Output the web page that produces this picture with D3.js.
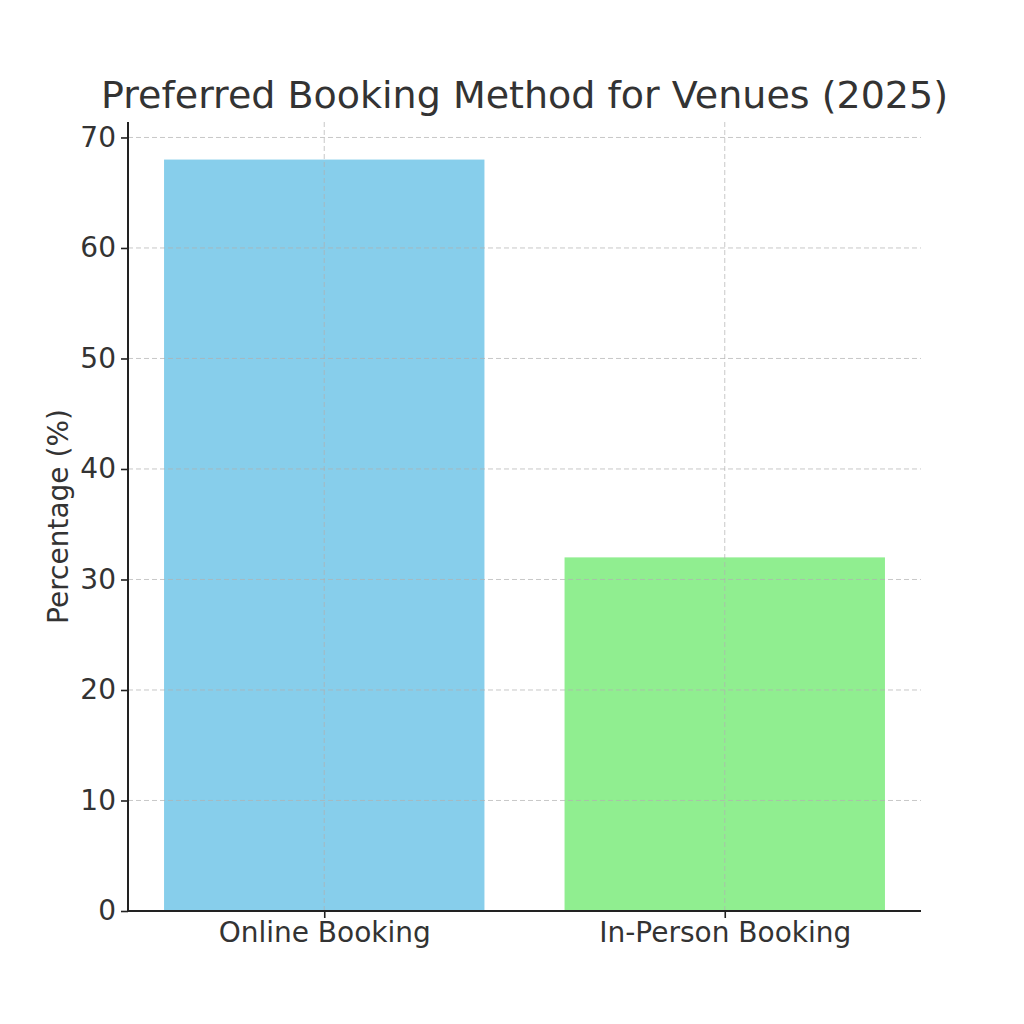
<!DOCTYPE html>
<meta charset="utf-8">
<head>
<script src="https://cdn.jsdelivr.net/npm/d3@7"></script>
<style>
  body { margin: 0; background: #fff; }
  text { font-family: "DejaVu Sans", sans-serif; fill: #333; }
</style>
</head>
<body>
<div id="chart"></div>
<script>
// chart data
var categories = ["Online Booking", "In-Person Booking"];
var percentages = [68, 32];
var barColors = ["#87CEEB", "#90EE90"];
var yTicks = [0, 10, 20, 30, 40, 50, 60, 70];

var width = 1024, height = 1024;
var margin = {top: 122, right: 103, bottom: 113, left: 128};
var plotW = width - margin.left - margin.right,
    plotH = height - margin.top - margin.bottom;

var svg = d3.select("#chart").append("svg")
    .attr("width", width)
    .attr("height", height);

var g = svg.append("g")
    .attr("transform", "translate(" + margin.left + "," + margin.top + ")");

// matplotlib-like limits: bars 0.8 wide, 5% margins
var x = d3.scaleLinear().domain([-0.49, 1.49]).range([0, plotW]);
var y = d3.scaleLinear().domain([0, d3.max(percentages) * 1.05]).range([plotH, 0]);

// bars
g.selectAll("rect.bar")
  .data(percentages)
  .enter().append("rect")
    .attr("class", "bar")
    .attr("x", function(d, i) { return x(i - 0.4); })
    .attr("width", x(0.8) - x(0))
    .attr("y", function(d) { return y(d); })
    .attr("height", function(d) { return plotH - y(d); })
    .attr("fill", function(d, i) { return barColors[i]; });

// grid on top of bars
var grid = g.append("g").attr("class", "grid");
grid.selectAll("line.h")
  .data(yTicks)
  .enter().append("line")
    .attr("x1", 0).attr("x2", plotW)
    .attr("y1", function(d) { return y(d); })
    .attr("y2", function(d) { return y(d); });
grid.selectAll("line.v")
  .data(categories)
  .enter().append("line")
    .attr("x1", function(d, i) { return x(i); })
    .attr("x2", function(d, i) { return x(i); })
    .attr("y1", 0).attr("y2", plotH);
grid.selectAll("line")
    .attr("stroke", "#b0b0b0")
    .attr("stroke-opacity", 0.7)
    .attr("stroke-width", 1)
    .attr("stroke-dasharray", "5,3");

// axes
var yAxis = d3.axisLeft(y).tickValues(yTicks).tickSize(7).tickPadding(5);
var xAxis = d3.axisBottom(x).tickValues([0, 1])
    .tickFormat(function(d) { return categories[d]; })
    .tickSize(7).tickPadding(4);

var ya = g.append("g").call(yAxis);
var xa = g.append("g").attr("transform", "translate(0," + plotH + ")").call(xAxis);

[ya, xa].forEach(function(a) {
  a.select(".domain").attr("stroke", "#222").attr("stroke-width", 2)
  a.selectAll(".tick line").attr("stroke", "#222").attr("stroke-width", 1.6);
  a.selectAll(".tick text")
    .style("font-size", "28px")
    .attr("fill", "#222")
    .style("font-family", "'DejaVu Sans', sans-serif");
});
// remove the outer tick caps from the domain paths
ya.select(".domain").attr("d", "M0," + plotH + "V0");
xa.select(".domain").attr("d", "M0,0H" + plotW);

// title and axis label
svg.append("text")
    .attr("x", margin.left + plotW / 2)
    .attr("y", 108)
    .attr("text-anchor", "middle")
    .style("font-size", "38px")
    .text("Preferred Booking Method for Venues (2025)");

svg.append("text")
    .attr("transform", "translate(68," + (margin.top + plotH / 2) + ") rotate(-90)")
    .attr("text-anchor", "middle")
    .style("font-size", "28px")
    .attr("fill", "#222")
    .text("Percentage (%)");
</script>
</body>
</html>
